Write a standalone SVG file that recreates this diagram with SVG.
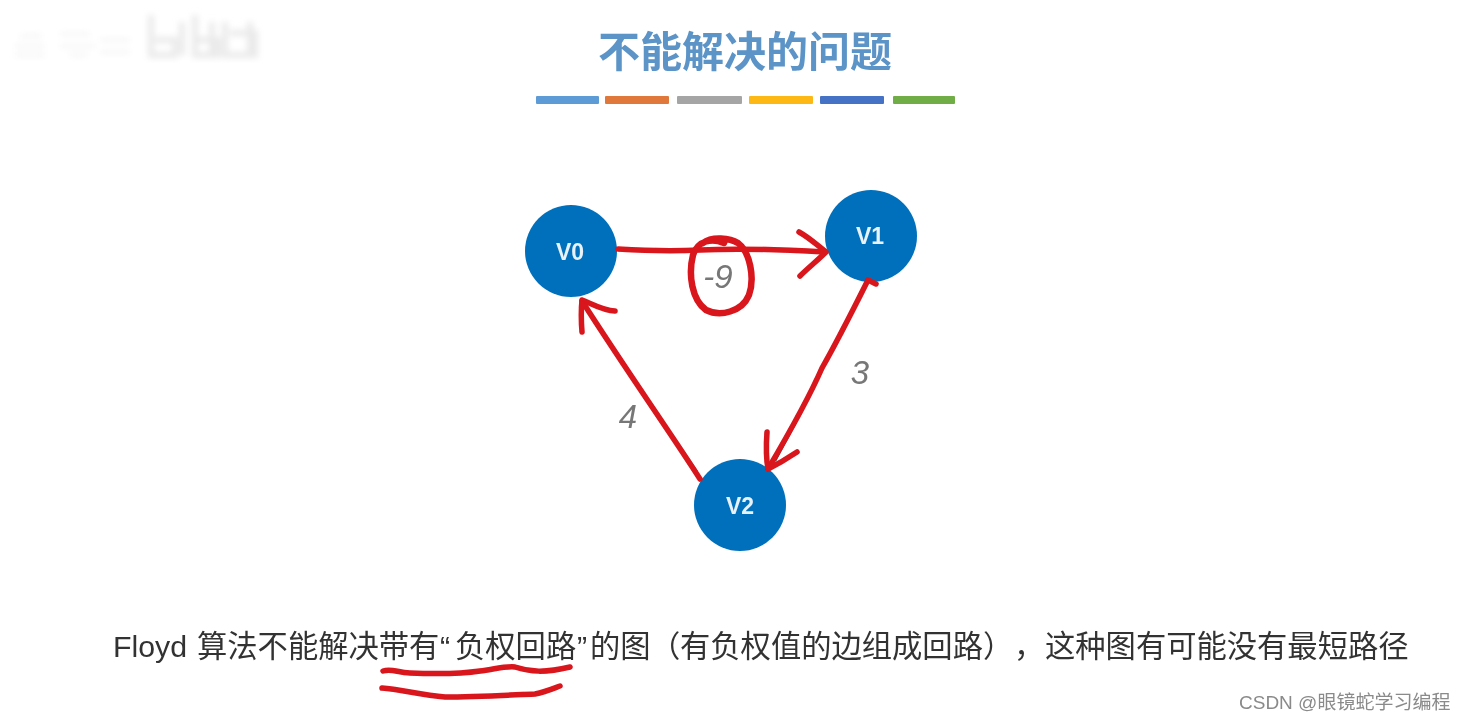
<svg xmlns="http://www.w3.org/2000/svg" width="1466" height="721" viewBox="0 0 1466 721">
<style>
.cn{font-family:"Liberation Sans","Noto Sans CJK SC",sans-serif}
.node{fill:#0670bc}
.nl{font-family:"Liberation Sans",sans-serif;font-size:23px;font-weight:bold;fill:#e8f2fa;text-anchor:middle}
.wl{font-family:"Liberation Sans",sans-serif;font-size:33px;font-style:italic;fill:#777;text-anchor:middle}
.red{fill:none;stroke:#d8141c;stroke-width:5.5;stroke-linecap:round;stroke-linejoin:round}
.base{fill:none;stroke:#444;stroke-width:2.5}
</style>
<defs>
<filter id="s" x="-5%" y="-20%" width="110%" height="140%"><feGaussianBlur stdDeviation="0.7"/></filter>
<filter id="w" x="-10%" y="-20%" width="120%" height="140%"><feGaussianBlur stdDeviation="3"/></filter>
</defs>
<rect width="1466" height="721" fill="#fff"/>
<g id="watermark-logo" filter="url(#w)" fill="none" stroke="#eaeaea" stroke-width="6">
<path d="M15 46H45M20 36H42M15 55H45M60 34H90M60 46H95M70 55H88M100 40H130M100 52H130" stroke="#f6f6f6" stroke-width="4"/>
<path d="M151 15V55H175V40H155M182 22V55M195 15V55H218V40H198M212 22V55M225 22V55H255V33H230M250 22V55"/>
</g>
<g id="title" filter="url(#s)">
<text class="cn" x="745" y="67" font-size="42" fill="#5b94c8" text-anchor="middle" font-weight="700">不能解决的问题</text>
<g>
<rect x="536" y="96" width="63" height="8" rx="1" fill="#5b9bd5"/>
<rect x="605" y="96" width="64" height="8" rx="1" fill="#e0783a"/>
<rect x="677" y="96" width="65" height="8" rx="1" fill="#a5a5a5"/>
<rect x="749" y="96" width="64" height="8" rx="1" fill="#fdb813"/>
<rect x="820" y="96" width="64" height="8" rx="1" fill="#4472c4"/>
<rect x="893" y="96" width="62" height="8" rx="1" fill="#70ad47"/>
</g>
</g>
<g id="n0" filter="url(#s)"><circle class="node" cx="571" cy="251" r="46"/><text class="nl" x="570" y="260">V0</text></g>
<g id="n1" filter="url(#s)"><circle class="node" cx="871" cy="236" r="46"/><text class="nl" x="870" y="244">V1</text></g>
<g id="n2" filter="url(#s)"><circle class="node" cx="740" cy="505" r="46"/><text class="nl" x="740" y="514">V2</text></g>
<g id="connectors" filter="url(#s)">
<path class="base" d="M651 404L697 472M798 418L775 461"/>
<path class="red" d="M618 249C650 251 680 251 700 250C740 248 790 250 825 252"/>
<path class="red" d="M799 232C810 238 818 246 826 252C818 260 808 268 800 276"/>
<path class="red" style="stroke-width:6.5" d="M724 243C712 238 698 240 693 255C688 275 692 300 706 310C720 317 742 312 749 295C755 278 750 252 738 243C730 238 712 236 703 243"/>
<path class="red" d="M876 284L868 280C858 300 838 340 822 368C808 400 788 435 768 469"/>
<path class="red" d="M767 432C766 446 766 458 768 469C778 464 788 458 797 452"/>
<path class="red" d="M700 479C672 435 626 370 582 301"/>
<path class="red" d="M582 332C581 320 581 310 582 300C592 304 604 311 615 311"/>
</g>
<g id="labels" filter="url(#s)">
<text class="wl" x="718" y="288">-9</text>
<text class="wl" x="860" y="384">3</text>
<text class="wl" x="628" y="428">4</text>
</g>
<g id="caption" filter="url(#s)" class="cn" font-size="30.3" fill="#333">
<text x="113" y="657">Floyd</text>
<text x="197" y="657">算法不能解决带有</text>
<text x="440" y="657">“</text>
<text x="455" y="657">负权回路</text>
<text x="577" y="657">”</text>
<text x="590" y="657">的图</text>
<text x="650" y="657">（</text>
<text x="680" y="657">有负权值的边组成回路</text>
<text x="983" y="657">）</text>
<text x="1014" y="657">，</text>
<text x="1045" y="657">这种图有可能没有最短路径</text>
</g>
<g id="underlines" filter="url(#s)">
<path class="red" d="M383 671C392 668 398 673 410 673C435 674 460 674 480 671C495 669 505 666 515 667C530 672 545 673 570 667"/>
<path class="red" d="M382 688C400 689 420 695 445 697C475 697 510 695 535 694C545 692 552 689 560 686"/>
</g>
<text id="credit" class="cn" x="1239" y="709" font-size="19" fill="#8a8a8a" filter="url(#s)">CSDN @眼镜蛇学习编程</text>
</svg>
